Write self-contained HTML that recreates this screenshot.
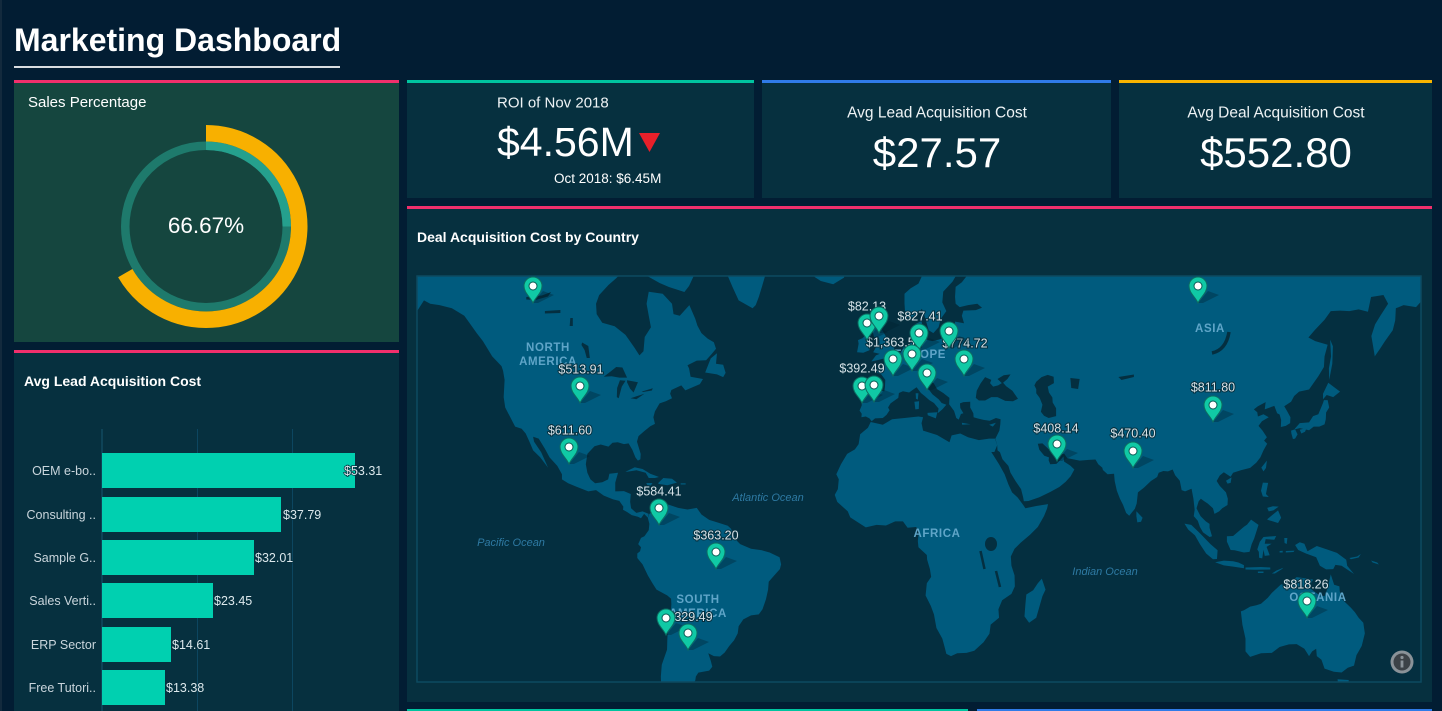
<!DOCTYPE html>
<html><head><meta charset="utf-8"><style>
html,body{margin:0;padding:0;background:#021d33;width:1442px;height:711px;overflow:hidden}
svg{display:block}
text{font-family:"Liberation Sans",Arial,sans-serif}
.vl{font-size:12.5px;fill:#d5e2e8;stroke:#06303f;stroke-width:2px;paint-order:stroke}
.rg{font-size:11.5px;font-weight:bold;fill:#5fa5c8;letter-spacing:0.6px}
.oc{font-size:11px;font-style:italic;fill:#2e7aa3}
.cat{font-size:12.5px;fill:#c9d5dc}
.bv{font-size:12.5px;fill:#dce8ec;stroke:#06303f;stroke-width:1.5px;paint-order:stroke}
</style></head><body>
<svg width="1442" height="711" viewBox="0 0 1442 711" xmlns="http://www.w3.org/2000/svg">
<defs>
<clipPath id="mc" clipPathUnits="userSpaceOnUse"><rect x="417" y="276" width="1004" height="406"/></clipPath>
<g id="pin">
<polygon points="0,17 10,5 21,9 5,17" fill="#00202e" opacity="0.35"/>
<path d="M0,17 C-2.5,11 -9,7 -9,0 A9,9 0 1 1 9,0 C9,7 2.5,11 0,17 Z" fill="#10c9a5" stroke="#0c6d62" stroke-width="1"/>
<circle cx="0" cy="0" r="4" fill="#ffffff" stroke="#0a5a55" stroke-width="1"/>
</g>
</defs>
<rect x="0" y="0" width="1442" height="711" fill="#021d33"/>
<rect x="0" y="0" width="2" height="711" fill="#132a3d"/>

<!-- Title -->
<text x="14" y="51" font-size="32" font-weight="bold" fill="#ffffff">Marketing Dashboard</text>
<rect x="14" y="66" width="326" height="2" fill="#d9dde0"/>

<!-- Sales Percentage panel -->
<rect x="14" y="80" width="385" height="3" fill="#f02f6c"/>
<rect x="14" y="83" width="385" height="259" fill="#15463f"/>
<text x="28" y="107" font-size="15" fill="#ffffff">Sales Percentage</text>
<circle cx="206" cy="226.5" r="80.75" fill="none" stroke="#1e7a6c" stroke-width="8.5"/>
<path d="M206,145.75 A80.75,80.75 0 0 1 286.75,226.5" fill="none" stroke="#25a08d" stroke-width="8.5"/>
<path d="M206,133.25 A93.25,93.25 0 1 1 125.24,273.13" fill="none" stroke="#f8b000" stroke-width="16.5"/>
<text x="206" y="233" font-size="22.5" fill="#ffffff" text-anchor="middle">66.67%</text>

<!-- Avg Lead Acquisition Cost bar chart -->
<rect x="14" y="350" width="385" height="3" fill="#f02f6c"/>
<rect x="14" y="353" width="385" height="358" fill="#06303f"/>
<text x="24" y="386" font-size="14" font-weight="bold" fill="#ffffff">Avg Lead Acquisition Cost</text>
<rect x="197" y="429" width="1" height="282" fill="#0c4660"/>
<rect x="292" y="429" width="1" height="282" fill="#0c4660"/>
<rect x="101.5" y="429" width="1" height="282" fill="#17566f"/>
<rect x="102" y="453" width="253" height="35" fill="#00d0b0"/>
<rect x="102" y="497" width="179" height="35" fill="#00d0b0"/>
<rect x="102" y="540" width="152" height="35" fill="#00d0b0"/>
<rect x="102" y="583" width="111" height="35" fill="#00d0b0"/>
<rect x="102" y="627" width="69" height="35" fill="#00d0b0"/>
<rect x="102" y="670" width="63" height="35" fill="#00d0b0"/>
<text class="cat" x="96" y="475" text-anchor="end">OEM e-bo..</text>
<text class="cat" x="96" y="519" text-anchor="end">Consulting ..</text>
<text class="cat" x="96" y="562" text-anchor="end">Sample G..</text>
<text class="cat" x="96" y="605" text-anchor="end">Sales Verti..</text>
<text class="cat" x="96" y="649" text-anchor="end">ERP Sector</text>
<text class="cat" x="96" y="692" text-anchor="end">Free Tutori..</text>
<text class="bv" x="344" y="475">$53.31</text>
<text class="bv" x="283" y="519">$37.79</text>
<text class="bv" x="255" y="562">$32.01</text>
<text class="bv" x="214" y="605">$23.45</text>
<text class="bv" x="172" y="649">$14.61</text>
<text class="bv" x="166" y="692">$13.38</text>

<!-- KPI cards -->
<rect x="407" y="80" width="347" height="3" fill="#00c4a0"/>
<rect x="407" y="83" width="347" height="115" fill="#06303f"/>
<text x="497" y="107.5" font-size="15" fill="#eef3f5">ROI of Nov 2018</text>
<text x="497" y="156" font-size="41" fill="#ffffff">$4.56M</text>
<polygon points="639,133 660,133 649.5,152" fill="#e8202a"/>
<text x="554" y="183" font-size="13.5" fill="#ffffff">Oct 2018: $6.45M</text>

<rect x="762" y="80" width="349" height="3" fill="#2f7be8"/>
<rect x="762" y="83" width="349" height="115" fill="#06303f"/>
<text x="937" y="117.5" font-size="15.5" fill="#eef3f5" text-anchor="middle">Avg Lead Acquisition Cost</text>
<text x="937" y="167" font-size="42" fill="#ffffff" text-anchor="middle">$27.57</text>

<rect x="1119" y="80" width="313" height="3" fill="#f8b400"/>
<rect x="1119" y="83" width="313" height="115" fill="#06303f"/>
<text x="1276" y="117.5" font-size="15.5" fill="#eef3f5" text-anchor="middle">Avg Deal Acquisition Cost</text>
<text x="1276" y="167" font-size="42" fill="#ffffff" text-anchor="middle">$552.80</text>

<!-- Map panel -->
<rect x="407" y="206" width="1025" height="3" fill="#f02f6c"/>
<rect x="407" y="209" width="1025" height="493" fill="#06303f"/>
<text x="417" y="242" font-size="14" font-weight="bold" fill="#ffffff">Deal Acquisition Cost by Country</text>
<rect x="417" y="276" width="1004" height="406" fill="#042f40"/>
<g clip-path="url(#mc)">
<g transform="matrix(3.1,0,0,1,889,0)" fill="#005b7e">
<!-- North America -->
<polygon points="-160,267 -156,318.7 -152,310 -150,300.4 -148,303.7 -145,305.1 -141,308.3 -137,315.8 -135,324.4 -133,333.1 -131,341.1 -128,356.4 -125,366.1 -124.5,370.7 -124,379.9 -124.3,397.1 -123.8,407.5 -122.5,415.3 -120.6,426.6 -118.5,428.8 -117.2,433.5 -116,441.6 -114.8,450.4 -112.5,457.4 -110,467.6 -110.7,462.6 -112.2,452.2 -114.5,441.6 -114.8,436.8 -113,438.6 -111,448.7 -109.5,457.4 -107,465.9 -105.5,474.3 -105.5,479.4 -103.5,483.3 -101,486.5 -97,491.4 -94.5,490.1 -92,495.6 -89,499.4 -87,500.9 -85.7,506.6 -85.8,509.8 -84.5,512 -83,515.1 -81,516.7 -80,518.3 -79,513.9 -77.8,517.6 -77.5,513.9 -79.5,511.4 -81.5,512.9 -83.2,508.2 -83.5,501.9 -83.3,494 -85.5,491.1 -88.3,491.4 -88.3,482.6 -87.4,472.7 -90.2,473.7 -90.6,479.4 -92.5,482.3 -94.8,483.3 -96.3,479.4 -97.3,472.7 -97.8,464.3 -97.3,453.9 -95,446.2 -93,444.5 -90.5,446.6 -89.2,442.7 -87.5,442.3 -85.5,444.1 -84,443.4 -82.8,449.7 -81.8,457.4 -81,460.6 -80.2,459.2 -80.1,453.9 -80.6,448.7 -81.3,441.6 -80.8,436.1 -79,431.3 -77,426.2 -75.5,423.9 -76,417.3 -75.5,411.4 -74,403.4 -72,401.3 -70,398.3 -70.6,393.7 -70.2,390 -67,385.4 -65.7,390.4 -61,384.1 -60,379 -64,376.7 -64.5,368.4 -65,365.2 -62,360.6 -59,360.2 -57.2,354 -55.8,348.8 -56.5,342.2 -58.5,338.6 -60.5,333.1 -61.8,325.6 -62.5,318.7 -64.4,305.1 -67.5,315.8 -69.5,314.1 -70,303.7 -73,293.7 -77.5,291.7 -78.2,303.7 -77.5,315.8 -76.8,327.3 -78.8,337 -79.2,351.3 -80.5,355.4 -82.2,347.2 -85,334.9 -88.5,326.2 -92.5,322.7 -94.3,314.1 -94.5,303.7 -93.5,295.1 -90.5,285 -88,278.2 -86.5,273.5 -86.5,260 -160,260"/>
<polygon points="-80,260 -78,276 -74,283 -71,287 -66,292 -64.5,286 -63,276 -62,260"/>
<polygon points="-53,260 -52,276 -50.5,286.9 -48.5,300.4 -44,308.3 -43,305.1 -42,297 -41,286.9 -40,276.2 -38,260"/>
<polygon points="-25,260 -24,277 -22,281 -18,284.3 -14.5,277.6 -13.5,260"/>
<polygon points="-59.3,372.5 -57.5,358.4 -55.5,353.3 -55.8,363.8 -53.5,364.7 -52.7,372.9 -53.5,377.1 -55.5,374.4"/>
<polygon points="-85,471.7 -82,467.3 -79.5,469 -77,473.7 -74.2,477 -75.5,478 -77.5,478 -78.5,472.7 -81.5,470.3 -84.5,471.7"/>
<polygon points="-74.4,482.9 -72.8,478 -70,478.7 -68.4,482.6 -71.5,485.2 -74.4,483.9"/>
<polygon points="-78.3,483 -76.3,483 -76.8,485.5 -78,485"/>
<polygon points="-67.2,483.3 -65.6,483.3 -65.6,484.5 -67.2,484.5"/>
<!-- South America -->
<polygon points="-77.8,517.7 -77.3,513.9 -76,511.4 -75.5,508.2 -74,506 -72,504.1 -71,504.7 -68,507.9 -65,509.5 -62,507.9 -60.5,514.5 -58,519.9 -55,522.7 -52,525.8 -51,528.6 -50,535.4 -49,541 -48,544.1 -44.5,548.8 -41,550.3 -38.5,552.5 -35.3,557.2 -34.8,564.4 -35.2,569.1 -37,575.4 -38.8,581.7 -39,589.6 -39.7,599.4 -40.8,609.3 -42,614.4 -44.5,615.4 -47,619.4 -48.5,626.2 -48.8,633.4 -50,640.4 -51.5,645.9 -53,652.5 -54.5,656.5 -56.5,656.1 -58.3,653.2 -57.5,660.8 -57,666.7 -58,670.6 -61.5,672.6 -62.3,676.5 -62.5,680.6 -64,686.5 -66,697.5 -74,697.5 -73.5,686.5 -73.6,676.5 -73.3,664.7 -71.6,649.6 -71.5,638.6 -71.3,628 -70.5,617.7 -70.2,604.3 -70.3,598.7 -71.5,595.5 -75,589.6 -76.3,583.2 -77.8,575.4 -79.5,564.4 -81.2,558 -81.2,553.5 -80.3,551.3 -80,547.2 -80.9,544.1 -80,537.9 -78.9,536.3 -77.5,530.1 -77.3,523.9"/>
<!-- Africa -->
<polygon points="-5.9,422 -2,424.7 1,419.2 5,418 9.5,416.5 11,417.3 10.5,423.1 11,430.6 15.5,435 19.5,442.3 20.2,435.4 23,433.5 25.5,437.2 29,440.1 32.3,438.6 34.2,438.6 34.9,445.2 34,452 33,452 35.5,464.3 37.3,474.3 38.5,484.2 39.7,492.4 41.5,497.5 43.3,505 44,508.2 47.5,506 51.3,504.1 51,508.5 50,516.1 48,527 45.5,534.8 42.5,542.6 40.5,548.8 39.3,556.5 39.5,565.8 40.5,575.4 40.6,586.4 39.5,593.9 36.5,600.3 35.3,609.3 35.5,617.7 32.8,624.6 32.4,633.7 30.5,642.3 27.5,650.7 25,652.9 22,653.2 20,656.1 18.5,653.9 18,647.7 17.2,638.6 15.3,628 14.5,614.4 13.5,606 11.8,595.5 12.2,583.2 13.6,576.9 13.2,569.1 12.3,559.6 12.2,555 9.5,547.2 9.3,541 9.7,530.1 8.7,527 6,527.7 4.5,521.4 2,521.4 -1,525.5 -4,524.9 -7.5,527.4 -10,522.4 -12.5,517.4 -13.3,511.4 -15,506.6 -16.7,501.9 -17.5,494.9 -16.5,489.1 -16.2,479.3 -17,474.3 -15.5,464.3 -13.5,453.9 -11,449.4 -9.8,444.1 -9.3,434.3 -6.8,427.7"/>
<polygon points="49.3,578.6 50.5,589.6 49.5,596.1 47.5,617.7 45.2,622.8 43.7,616.4 44,604.3 44.3,594.5 46.5,590.3 48,583.2"/>
<!-- Eurasia -->
<polygon points="12,260 10.5,276.9 9.5,283.6 7,288.3 5,293.7 5,303.7 5.2,313 5.7,317.5 7.5,318.7 9.5,313 10.6,308.8 11.3,314.1 12,321.6 12.8,330.2 14.3,333.1 16,327.3 16.7,318.7 18.5,311.1 17.2,302.4 17.5,291.6 20.5,281.6 21.5,276.2 25,276.2 23.5,282.2 21.5,286.9 21.3,297 21.5,303.7 22.8,307.1 25.5,305.1 28.5,303.7 30,307.8 28,310.1 24,310.6 23.5,315.8 24.2,323.3 21.3,321.6 21,330.2 21.2,334.8 19.5,339.1 18.5,337 16,339.6 14,341.1 12,339.6 10.8,341.1 10.9,327.9 10.5,321 8.6,323.9 8.1,332.5 8.6,341.1 7,343.1 5,344.7 4.5,348.8 3.5,353.9 1.8,356.4 1.5,360.5 0,362.9 -1.5,362.9 -1.9,367.5 -4.7,368.4 -4.5,371.6 -2.5,374.4 -1.2,379.9 -1.3,386.6 -1.5,391.2 -3.5,390.8 -6,390.4 -8.2,390 -9.3,393 -8.9,397.9 -8.8,405.5 -9.5,410.6 -8.8,413.7 -8.9,417.3 -7.5,416.5 -6.3,418.4 -5.6,421.2 -4.5,418.4 -2,418 -0.8,414.9 0.2,410.2 -0.3,407.5 0.5,403.4 3,397.9 3.2,393 4.5,391.2 6.5,392.5 8,389.1 8.9,387.2 10.3,393 11.5,396 13,400.1 14.5,403 16,408.6 15.7,413.3 16.2,412 17.2,409.4 18.5,404.7 17,403 16,399.2 14,394.2 12.4,387.6 12.3,383.1 13.6,381.3 14.5,383.6 15.5,389.1 17.5,393 19.5,397.9 19.4,404.3 21,411 21.7,418 22.5,419.6 23.2,414 24,413.3 23,408 22.9,403.4 24,402.1 26.2,401.7 26.2,404.3 26.2,407.5 27.2,413.3 27.3,417.3 28.5,418.4 30.5,419.9 32.5,420.8 34.5,418 36,419.2 35.9,424.4 35.6,430.6 35,434.4 34.3,438.6 34.9,445.2 35,450.4 35.8,452.2 36.6,459.2 38.5,465.9 39.2,472.7 40.8,481 42.6,489.1 43.3,497.8 43.5,501.3 45,501 48.5,497.2 52,492 55,486.9 57,481.7 58.6,476.2 59.8,469.5 58.5,465.6 56.5,461.6 56.3,456.4 55.5,459.2 54,463.9 52,464.3 51.5,460.2 51.6,457.4 50.1,455.7 48.5,449.7 48,443.8 49.5,443.4 51,447.7 52.5,452.2 54.5,455.3 56.5,453.6 57.5,458.1 61.5,460.6 64.5,459.9 66.6,459.5 67.5,464.3 68.8,467.6 69,470 70.5,474.3 72.6,473.7 72.8,481 73.5,490.7 74.5,498.7 75.5,504.9 76.5,513 77.5,515.8 78.2,513 79.3,508.9 79.9,503.5 80.3,492.4 82.3,487.5 84.5,481 86.5,477 87,472.7 88.5,471 90,471.4 91.5,469.5 92.3,475.2 93.8,480.7 94.4,490.1 95.5,491.4 97.6,488.8 98.2,498.7 98.6,509.8 98.3,516.1 99.6,520.8 100.3,527 101.3,532.4 103.4,537 104.2,536.3 103.4,527.7 103.4,523.9 102.2,521.4 100.5,516.1 99.8,512 99.2,508.2 99.9,501.3 100.6,498.7 101.7,501.3 102.8,503.5 104.5,508.2 105,513.9 106.5,511.4 107.5,508.2 109.2,505 109.3,498.7 108.7,492.4 106.7,485.9 105.7,481 106.7,475.5 108,472.3 110.2,476.7 111,472.7 113.5,470.3 116.5,467.9 118.5,462.6 119.8,457.4 120.8,450.4 122,443.8 121,440.6 121.9,437.2 120.5,430.6 119.2,425.9 120.3,421.2 122.5,417.3 120.8,414.2 119,416.5 118.8,412.2 117.7,409.4 119,406.3 121.5,402.1 121.2,409.4 122.2,408.2 124.3,405.9 125.2,413.3 126,414.5 126.5,420 126.4,427 128,425.9 129.4,423.1 129.5,417.3 128.4,411 127.5,406.3 129.7,401.7 130.7,396 132.3,391.6 135.5,389.5 138.5,376.2 140.3,367 140.5,356.4 141.5,344.7 137.5,341.1 135.3,337.5 137.3,330.2 140.5,319.8 142.5,311.1 145.5,310.6 148.5,311.1 151.5,309.4 154.5,311.7 155.5,297 159.5,295 161,303.7 158.5,315.8 156.8,324.4 155.6,336 156.3,348.8 156.7,356.4 158.4,348.8 160,341.1 162.5,330.2 163.3,320.4 163.5,308.3 166,305.1 170,307.1 173,297 175,293.7 180,290 180,260"/>
<polygon points="-5,315.2 -3,315.2 -4,321 -1.8,321 -2.5,328.6 -1.6,333.1 -0.2,341.1 0.2,344.7 1.7,347.8 1.4,355.4 0.5,357.4 -1.5,358.4 -3.5,360 -5.7,361.5 -4.2,355.4 -3,353.9 -5.1,352.3 -4.2,347.2 -4.6,344.7 -3,343.7 -3.2,337.5 -4.8,337 -5.2,332.5 -5.7,327.3 -6.2,321.6 -5.1,316.9"/>
<polygon points="-6.1,334.3 -5.6,338.6 -6,344.7 -6.3,350.2 -8.3,352.8 -10.3,352.3 -9.8,343.7 -10,340.1 -8.5,338.1 -7.3,334.3"/>
<polygon points="12.4,412.9 15.6,412.2 15.1,418.4 12.5,415.3"/>
<polygon points="8.2,401.7 9.7,401.3 9.6,409 8.5,409.4"/>
<polygon points="8.6,393.3 9.5,393.3 9.3,399.6 8.7,398.8"/>
<polygon points="23.5,422.8 26.3,424.3 23.6,424.8"/>
<polygon points="32.3,424.7 34.5,422.8 33.5,426.6"/>
<polygon points="79.8,511.2 81.8,517.7 81.3,521.7 80.1,522.4 79.8,516.1"/>
<polygon points="120.1,467.6 121.9,460.6 121.6,468 120.8,471.4"/>
<polygon points="108.7,480.7 110.5,477.4 110.2,482.9 109.2,483.6"/>
<polygon points="130.9,428.8 132.5,423.1 135.5,422.4 136.8,416.1 138.5,414.2 140,403 140.3,400.1 141.5,400.1 142,407.5 141,412.5 140.9,419.2 140.5,424.4 138.8,426.6 137,426.6 135.5,430.2 132.5,428.1 131,429.2"/>
<polygon points="129.7,430.6 131,429.2 131.8,434.4 131,438.6 130.3,439 129.8,433.5"/>
<polygon points="132.5,429.6 134.7,428.1 134.2,431.7 133,433.5"/>
<polygon points="140,399.2 140,393.7 141.7,382.7 145.5,391.6 143.3,397.1 141.2,395"/>
<polygon points="142,379.9 143,363.8 143.2,346.2 142.3,339.6 142.6,356.4 141.9,368.4"/>
<polygon points="120.6,482.6 122.3,482.9 121.6,494 122.5,497 120.6,496.5 120,490.7"/>
<polygon points="122,519.2 125.5,510.4 126.5,517.7 125.5,523 122.2,519.9"/>
<polygon points="122,507.9 123.8,506.3 125.7,506.6 124,510.4 122.5,511.4"/>
<polygon points="95.3,523.6 97.5,524.9 100.3,533.2 103.7,544.1 106,550.3 105.8,559 104.5,559.3 102.3,553.5 100.3,544.1 98.7,535.4 96.5,529.5"/>
<polygon points="105.2,562.2 108,560.6 111,561.3 112.7,562.5 114.5,565.1 114.5,568.2 111,566.6 108,565.4 106.3,563.5"/>
<polygon points="109,536.3 111,536 114.5,526.8 115.5,524.6 116.8,519.6 119.2,524.9 117.8,538.5 117,544.1 116.3,551.9 114.5,552.5 111.5,550.3 110.2,550 109,541.6"/>
<polygon points="119.6,541.9 120.8,537 124.9,536 124.3,539.8 121.5,539.1 121.2,543.8 123.4,543.8 121.8,546.9 122.8,555.2 121.2,555.9 120.8,549.7 120.4,558.4 119.4,557.7 119.3,551.9 118.8,549.4"/>
<polygon points="115,567.5 120,567 123,567.5 123,569.5 118,569.8 115,569.5"/>
<polygon points="119,571.5 120.8,571.5 120.8,573 119,573"/>
<polygon points="123.5,573.5 125,570.5 127.2,567.7 126.8,569 124.5,573.5"/>
<polygon points="127.5,538 128.5,538 128.3,544 127.6,543"/>
<polygon points="128,551 130.8,550.6 130.5,552 128,552.5"/>
<polygon points="126,551 127,550.8 127,552.5 126,552.5"/>
<polygon points="131,545 132.5,542.2 134,543.8 135,551.3 138,546 141,549.1 144.5,552.9 147.5,559.7 147.8,565.8 150,574 146,565.8 144,564.9 143.3,569.1 141,569.4 139,565.8 137.8,557.2 134.5,553.5 132,550"/>
<polygon points="148.5,558 151,556.5 152.2,554 151.5,557.5 149,559.2"/>
<polygon points="155.5,560.5 157.5,562.5 158,564.5 156,562.5"/>
<!-- Australia -->
<polygon points="113.5,611.4 114,624.6 115,638.6 115,651.4 116.5,656.9 120,653.2 123.5,652.9 126,647 129,644.4 131.5,644.1 134,648.8 135.5,656.1 136.5,651.4 137.8,648.8 138,656.1 139.5,659.7 140.5,668.6 143.5,671.8 146,672.5 148,667.8 150,665.6 150.8,655.1 151.3,652.5 152.5,645.9 153.5,633.4 153,622.8 151.5,617.7 150.3,612.3 149,607.7 146.2,599.4 145.4,591.2 145.3,586.4 143.6,584.8 142.5,574.4 141.5,588 140.5,596.2 139,595.5 137,591.1 135.5,587.4 136.8,579.5 133,577.7 131.5,577.1 130,580.9 129.5,587.4 126.5,584.2 123.5,592.9 122.2,597.8 120,603.7 118.5,605.3 116.5,606.6 114.5,610.3"/>
<polygon points="144.7,679.3 148.3,680 148,690 145,690"/>
</g>
<!-- water bodies -->
<g transform="matrix(3.1,0,0,1,889,0)" fill="#042f40">
<polygon points="28,397.9 28.3,390.8 29.5,383.6 31,377.1 33,379.9 32.6,383.1 33.6,386.6 35.2,385.4 36.4,383.1 35,379 37,375.3 39.2,374.4 38.2,379 36.8,382.7 37.8,386.2 39.8,390.8 41.6,398.8 40,401.3 37.5,400.9 35,397.1 33,397.1 31,400.5 29,400.5"/>
<polygon points="46.9,385.4 47.5,381.7 49.2,377.1 51.2,374.9 53.1,376.7 53.2,383.1 51.2,386.6 51.6,392.5 52.7,397.5 52.8,402.5 53.9,408.2 53.9,416.1 51.5,418 50,415.7 49,411.8 49.5,404.7 48.6,397.9 47.5,393.3 47.5,389.1"/>
<polygon points="-92,376.7 -89.5,370.7 -88,367 -86,367.5 -84.5,377.6 -87,377.6 -89.5,376.2"/>
<polygon points="-87.8,397.1 -87.2,398.3 -86.2,386.6 -85,380.8 -86.8,380.3 -87.7,388"/>
<polygon points="-84.5,380.3 -81,382.2 -82.4,392.5 -83.5,388.7 -84.5,382.2"/>
<polygon points="-83.4,398.3 -78.9,393.7 -81.5,399.2"/>
<polygon points="-79.8,391.6 -76.2,388.3 -76.5,390.5 -79.3,392"/>
<polygon points="-99,342.5 -97,346 -96.5,358 -97.5,358 -98.2,350 -99.2,345"/>
<polygon points="-111,311 -106,310 -106,313 -111,313.5"/>
<polygon points="-102.8,318 -102,318 -102,326 -103,326"/>
<polygon points="-117,297 -112,295.5 -109,292 -110,296.5 -114,300 -117,299.5"/>
<polygon points="58.5,378 61.5,379 61,389 58.8,388"/>
<polygon points="74,377 79,374.5 79,377 75,380"/>
</g>
<ellipse cx="991" cy="544" rx="6" ry="7" fill="#042f40"/>
<path d="M980.5,551 L984.5,569" stroke="#042f40" stroke-width="2.5"/>
<path d="M996,571 L1000,587" stroke="#042f40" stroke-width="2.5"/>
<path d="M1212,353 Q1226,350 1229,332" stroke="#042f40" stroke-width="3.5" fill="none"/>
</g>
<rect x="417" y="276" width="1004" height="406" fill="none" stroke="#0d4a60" stroke-width="1.5"/>

<!-- Region & ocean labels -->
<text class="rg" x="548" y="351" text-anchor="middle">NORTH</text>
<text class="rg" x="548" y="365" text-anchor="middle">AMERICA</text>
<text class="rg" x="920" y="358" text-anchor="middle">EUROPE</text>
<text class="rg" x="1210" y="332" text-anchor="middle">ASIA</text>
<text class="rg" x="937" y="537" text-anchor="middle">AFRICA</text>
<text class="rg" x="698" y="603" text-anchor="middle">SOUTH</text>
<text class="rg" x="698" y="617" text-anchor="middle">AMERICA</text>
<text class="rg" x="1318" y="601" text-anchor="middle">OCEANIA</text>
<text class="oc" x="511" y="546" text-anchor="middle">Pacific Ocean</text>
<text class="oc" x="768" y="501" text-anchor="middle">Atlantic Ocean</text>
<text class="oc" x="1105" y="575" text-anchor="middle">Indian Ocean</text>

<!-- Value labels -->
<text class="vl" x="581" y="373.5" text-anchor="middle">$513.91</text>
<text class="vl" x="570" y="434.5" text-anchor="middle">$611.60</text>
<text class="vl" x="659" y="495.5" text-anchor="middle">$584.41</text>
<text class="vl" x="716" y="539.5" text-anchor="middle">$363.20</text>
<text class="vl" x="690" y="621" text-anchor="middle">$329.49</text>
<text class="vl" x="867" y="310.5" text-anchor="middle">$82.13</text>
<text class="vl" x="920" y="320.5" text-anchor="middle">$827.41</text>
<text class="vl" x="866" y="346.5">$1,363.52</text>
<text class="vl" x="965" y="347.5" text-anchor="middle">$774.72</text>
<text class="vl" x="862" y="372.5" text-anchor="middle">$392.49</text>
<text class="vl" x="1056" y="432.5" text-anchor="middle">$408.14</text>
<text class="vl" x="1133" y="437.5" text-anchor="middle">$470.40</text>
<text class="vl" x="1213" y="391.5" text-anchor="middle">$811.80</text>
<text class="vl" x="1306" y="588.5" text-anchor="middle">$818.26</text>

<!-- Pins -->
<use href="#pin" x="533" y="286"/>
<use href="#pin" x="580" y="386"/>
<use href="#pin" x="569" y="447"/>
<use href="#pin" x="659" y="508"/>
<use href="#pin" x="716" y="552"/>
<use href="#pin" x="666" y="618"/>
<use href="#pin" x="688" y="633"/>
<use href="#pin" x="867" y="323"/>
<use href="#pin" x="879" y="316"/>
<use href="#pin" x="919" y="333"/>
<use href="#pin" x="949" y="331"/>
<use href="#pin" x="893" y="359"/>
<use href="#pin" x="912" y="354"/>
<use href="#pin" x="927" y="373"/>
<use href="#pin" x="964" y="359"/>
<use href="#pin" x="862" y="386"/>
<use href="#pin" x="874" y="385"/>
<use href="#pin" x="1198" y="286"/>
<use href="#pin" x="1057" y="444"/>
<use href="#pin" x="1133" y="451"/>
<use href="#pin" x="1213" y="405"/>
<use href="#pin" x="1307" y="601"/>

<!-- info icon -->
<circle cx="1402" cy="662" r="11.5" fill="#8a9298"/>
<circle cx="1402" cy="662" r="8.5" fill="#3c4247"/>
<circle cx="1402" cy="657.5" r="1.6" fill="#8a9298"/>
<rect x="1400.6" y="660.5" width="2.8" height="7" fill="#8a9298"/>

<!-- bottom strips -->
<rect x="407" y="709" width="561" height="2" fill="#00c4a0"/>
<rect x="977" y="709" width="455" height="2" fill="#2f7be8"/>
</svg>
</body></html>
